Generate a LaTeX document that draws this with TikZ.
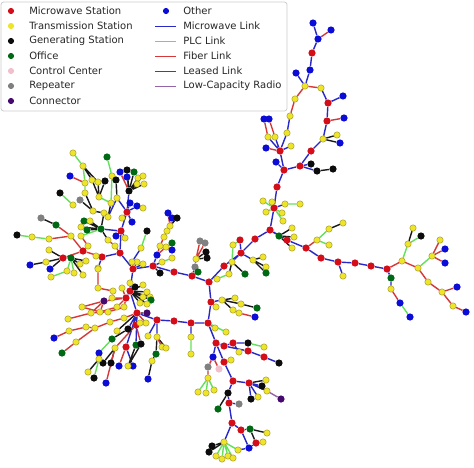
\documentclass[tikz,border=0pt]{standalone}
\usepackage{fontspec}
\setmainfont{DejaVu Sans}
\usetikzlibrary{backgrounds}
\definecolor{cms}{RGB}{212,14,24}
\definecolor{cts}{RGB}{238,228,40}
\definecolor{ctsb}{RGB}{150,140,30}
\definecolor{cgs}{RGB}{12,12,12}
\definecolor{cof}{RGB}{0,105,20}
\definecolor{ccc}{RGB}{242,192,204}
\definecolor{crp}{RGB}{128,128,128}
\definecolor{ccn}{RGB}{70,10,110}
\definecolor{cot}{RGB}{12,12,215}
\definecolor{cmw}{RGB}{40,40,200}
\definecolor{cplc}{RGB}{100,225,90}
\definecolor{cfb}{RGB}{214,55,55}
\definecolor{cll}{RGB}{25,25,25}
\definecolor{clc}{RGB}{150,100,170}
\definecolor{clg}{RGB}{205,205,205}
\tikzset{
 vtx/.style={circle,inner sep=0pt,minimum size=5.4pt},
 ms/.style={vtx,fill=cms},
 ts/.style={vtx,fill=cts,draw=ctsb,line width=0.3pt,minimum size=4.8pt},
 gs/.style={vtx,fill=cgs},
 of/.style={vtx,fill=cof},
 cc/.style={vtx,fill=ccc},
 rp/.style={vtx,fill=crp},
 cn/.style={vtx,fill=ccn},
 ot/.style={vtx,fill=cot},
 mw/.style={draw=cmw,line width=1.05pt},
 plc/.style={draw=cplc,line width=1.05pt},
 fb/.style={draw=cfb,line width=1.05pt},
 ll/.style={draw=cll,line width=1.05pt},
 lc/.style={draw=clc,line width=1.05pt},
 lgtxt/.style={anchor=west,inner sep=0pt,font=\fontsize{7.5}{9}\selectfont,text=black!85},
 lgdot/.style={circle,inner sep=0pt,minimum size=4.6pt}
}
\newcommand\nd[4]{\node[#1] (#2) at (#3,#4) {};}
\begin{document}
\begin{tikzpicture}[x=0.75pt,y=-0.75pt]
\useasboundingbox (0,0) rectangle (474,467);
% ---------- backbone
\nd{ms}{B1}{277}{187}\nd{ms}{B2}{274}{208}\nd{ms}{B3}{270}{230}\nd{ms}{B4}{255}{239}
\nd{ms}{B5}{240}{240}\nd{ms}{B6}{241}{253}\nd{ms}{B7}{224}{266}\nd{ms}{B8}{209}{282}
\nd{ms}{B9}{192}{276}\nd{ms}{B10}{174}{272}\nd{ms}{B11}{153}{266}\nd{ms}{B12}{133}{269}
\nd{ms}{B13}{130}{291}\nd{ms}{B14}{137}{313}\nd{ms}{B15}{157}{320}\nd{ms}{B16}{174}{321}
\nd{ms}{B17}{191}{323}\nd{ms}{B18}{208}{323}\nd{ms}{B19}{211}{302}
% ---------- top arm
\nd{ms}{T1}{284}{170}\nd{ms}{T2}{280}{151}\nd{ot}{T3}{276}{162}\nd{ms}{T4}{300}{166}
\nd{gs}{T5}{311}{164}\nd{gs}{T6}{317}{171}\nd{gs}{T7}{333}{169}\nd{ms}{T8}{311}{151}
\nd{ts}{T9}{323}{139}\nd{ts}{T10}{337}{135}\nd{ot}{T11}{340}{143}\nd{ms}{T12}{327}{121}
\nd{ot}{T13}{344}{118}\nd{ms}{T14}{328}{103}\nd{ot}{T15}{343}{96}\nd{ts}{T16}{321}{88}
\nd{ts}{T17}{305}{86}\nd{ot}{T18}{296}{73}\nd{ot}{T19}{310}{70}\nd{ms}{T20}{312}{53}
\nd{ot}{T21}{318}{39}\nd{ot}{T22}{313}{23}\nd{ot}{T23}{331}{30}\nd{ts}{T24}{295}{99}
\nd{ts}{T25}{290}{116}\nd{ts}{T26}{287}{133}\nd{ts}{T27}{291}{146}\nd{ts}{T28}{275}{137}
\nd{ts}{T29}{268}{137}\nd{ot}{T30}{264}{119}\nd{ot}{T31}{269}{119}\nd{ot}{T32}{266}{148}
\nd{ts}{T33}{263}{201}\nd{ts}{T34}{272}{202}\nd{ts}{T35}{285}{204}\nd{ts}{T36}{300}{204}
\nd{ts}{T37}{266}{212}\nd{ts}{T38}{282}{213}\nd{ts}{T39}{283}{221}
% ---------- right arm
\nd{ms}{R1}{287}{240}\nd{ms}{R2}{306}{248}\nd{ms}{R3}{321}{258}\nd{ms}{R4}{338}{262}
\nd{ms}{R5}{355}{263}\nd{ms}{R6}{371}{266}\nd{ms}{R7}{387}{269}\nd{of}{G1}{279}{236}
\nd{ts}{Rg1}{292}{228}\nd{ts}{Rg2}{294}{237}\nd{ts}{Rg3}{292}{248}
\nd{ts}{R8}{317}{240}\nd{ts}{R9}{329}{229}\nd{ts}{R10}{329}{245}\nd{ts}{R11}{343}{223}
\nd{ts}{R12}{343}{276}\nd{of}{R13}{391}{278}\nd{ts}{R14}{391}{289}\nd{ot}{R15}{400}{303}
\nd{ot}{R16}{410}{317}\nd{ts}{R17}{402}{261}\nd{ts}{R18}{408}{244}\nd{ts}{R19}{413}{228}
\nd{gs}{R20}{421}{236}\nd{ts}{R21}{418}{268}\nd{ts}{R22}{432}{256}\nd{ts}{R23}{440}{240}
\nd{ot}{R24}{445}{249}\nd{ot}{R25}{445}{263}\nd{ts}{R26}{428}{282}\nd{ts}{R27}{442}{292}
\nd{ot}{R28}{457}{287}\nd{ts}{R29}{453}{306}\nd{ot}{R30}{466}{312}
% ---------- centre branches
\nd{ts}{C2}{232}{262}\nd{ts}{C3}{233}{245}\nd{ts}{C4}{229}{274}\nd{ts}{C5}{217}{279}
\nd{of}{C6}{245}{274}\nd{ts}{C7}{253}{260}\nd{ts}{C8}{263}{257}\nd{ts}{C9}{266}{267}
\nd{of}{C10}{266}{273}
\nd{rp}{D1}{200}{241}\nd{rp}{D2}{205}{243}\nd{gs}{D3}{206}{252}\nd{gs}{D4}{207}{258}
\nd{ts}{D5}{196}{259}\nd{rp}{D6}{195}{267}\nd{of}{D7}{198}{272}
\nd{ts}{E1}{222}{300}\nd{ts}{E2}{235}{298}\nd{ts}{E3}{241}{304}\nd{ts}{E4}{233}{310}
\nd{ts}{E5}{239}{313}\nd{ts}{E6}{216}{307}\nd{of}{E7}{257}{308}\nd{ot}{E8}{255}{317}
\nd{ts}{E9}{226}{332}\nd{ts}{E10}{215}{328}\nd{ts}{E11}{191}{337}\nd{ts}{E12}{191}{354}
% ---------- down arm
\nd{ms}{S1}{216}{343}\nd{ms}{S2}{224}{346}\nd{ms}{S3}{233}{343}\nd{gs}{S4}{248}{343}
\nd{ts}{S5}{264}{347}\nd{ts}{S6}{239}{352}\nd{ms}{S7}{248}{351}\nd{ms}{S8}{264}{357}
\nd{gs}{S9}{279}{363}\nd{ot}{S10}{213}{357}\nd{rp}{S11}{208}{367}\nd{cc}{S12}{219}{369}
\nd{ms}{S13}{224}{362}\nd{ts}{S14}{231}{360}\nd{ts}{S15}{208}{378}\nd{ts}{S16}{198}{392}
\nd{ts}{S17}{206}{393}\nd{ts}{S18}{214}{390}\nd{ms}{S19}{233}{381}\nd{ms}{S20}{249}{383}
\nd{ts}{S21}{266}{380}\nd{gs}{S22}{262}{386}\nd{ts}{S23}{267}{391}\nd{gs}{S24}{251}{399}
\nd{ts}{S25}{258}{397}\nd{cn}{S26}{281}{399}\nd{gs}{S27}{228}{393}\nd{ms}{S28}{229}{403}
\nd{of}{S29}{218}{409}\nd{rp}{S30}{239}{404}\nd{ms}{S31}{232}{423}\nd{ms}{S32}{241}{430}
\nd{of}{S33}{250}{429}\nd{ts}{S34}{267}{433}\nd{ms}{S35}{256}{443}\nd{ot}{S36}{249}{448}
\nd{ts}{S37}{263}{442}\nd{ts}{S38}{224}{442}\nd{gs}{S39}{212}{446}\nd{gs}{S40}{209}{452}
\nd{ts}{S41}{216}{456}\nd{ts}{S42}{222}{459}\nd{ts}{S43}{228}{456}\nd{ts}{S44}{233}{458}
\nd{ts}{S45}{238}{450}
% ---------- left upper cluster
\nd{ms}{L1}{120}{253}\nd{ms}{L2}{121}{231}\nd{ms}{L3}{127}{212}\nd{ms}{L4}{83}{251}
\nd{ms}{L5}{63}{258}\nd{ms}{L6}{102}{257}\nd{ot}{Lb}{116}{236}\nd{ts}{Ly}{125}{238}
\nd{ts}{a1}{73}{153}\nd{of}{a2}{107}{157}\nd{ts}{a3}{83}{166}\nd{ts}{a4}{112}{176}
\nd{ot}{a5}{70}{176}\nd{ts}{a6}{85}{183}\nd{ts}{a7}{92}{180}\nd{ts}{a8}{98}{182}
\nd{gs}{a9}{105}{181}\nd{gs}{a10}{116}{180}\nd{ot}{a11}{120}{172}\nd{gs}{a12}{127}{170}
\nd{ot}{a13}{127}{177}\nd{of}{a14}{134}{172}\nd{ts}{a15}{138}{178}\nd{ts}{a16}{143}{176}
\nd{ts}{a17}{144}{184}\nd{ts}{a18}{137}{184}\nd{gs}{a19}{129}{191}\nd{ts}{a20}{85}{193}
\nd{ts}{a21}{99}{197}\nd{gs}{a22}{60}{193}\nd{rp}{a23}{80}{200}\nd{ts}{a24}{73}{205}
\nd{ts}{a25}{93}{211}\nd{ts}{a26}{111}{203}\nd{ts}{a27}{117}{198}\nd{ts}{a28}{104}{213}
\nd{ts}{a29}{108}{217}\nd{rp}{a30}{41}{218}\nd{of}{a31}{56}{225}\nd{of}{a32}{84}{221}
\nd{ts}{a33}{90}{221}\nd{of}{a34}{87}{230}\nd{ts}{a35}{81}{227}\nd{ts}{a36}{81}{236}
\nd{of}{a37}{101}{229}\nd{gs}{a38}{17}{235}\nd{ts}{a39}{32}{237}\nd{ts}{a40}{49}{239}
\nd{ts}{a41}{71}{236}\nd{ts}{a42}{108}{240}\nd{ts}{a43}{115}{246}\nd{ot}{a44}{130}{203}
\nd{ot}{a45}{137}{206}\nd{ts}{a46}{143}{208}\nd{ot}{a47}{132}{222}\nd{ts}{a48}{122}{218}
% ---------- left middle cluster
\nd{of}{b1}{71}{258}\nd{ot}{b2}{30}{265}\nd{ot}{b3}{50}{269}\nd{ts}{b4}{46}{262}
\nd{ts}{b5}{49}{250}\nd{ts}{b6}{51}{277}\nd{ts}{b7}{67}{271}\nd{ts}{b8}{74}{273}
\nd{ts}{b9}{83}{275}\nd{ts}{b10}{86}{261}\nd{ts}{b11}{80}{264}\nd{ts}{b12}{96}{256}
\nd{ts}{b13}{98}{268}\nd{ts}{b14}{88}{246}
% ---------- centre cluster
\nd{ts}{c1}{137}{262}\nd{ts}{c2}{143}{264}\nd{ts}{c3}{132}{262}\nd{ts}{c4}{141}{248}
\nd{gs}{c5}{147}{231}\nd{ot}{c6}{157}{255}\nd{gs}{c7}{160}{273}\nd{ts}{c8}{162}{262}
\nd{ts}{c9}{172}{258}\nd{of}{c10}{172}{243}\nd{ot}{c11}{172}{250}\nd{ts}{c12}{166}{247}
\nd{ts}{c13}{164}{237}\nd{ts}{c14}{167}{231}\nd{ts}{c15}{170}{226}\nd{ot}{c16}{168}{213}
\nd{ot}{c17}{172}{218}\nd{gs}{c18}{177}{218}\nd{ts}{c19}{160}{246}
% ---------- lower left cluster
\nd{gs}{d1}{135}{287}\nd{ts}{d2}{130}{283}\nd{ts}{d3}{122}{288}\nd{ts}{d4}{143}{285}
\nd{ts}{d5}{147}{292}\nd{ts}{d6}{150}{297}\nd{ts}{d7}{143}{297}\nd{of}{d8}{151}{300}
\nd{ts}{d9}{140}{303}\nd{ts}{d10}{147}{304}\nd{ms}{d11}{126}{298}\nd{cn}{d12}{104}{301}
\nd{ts}{d13}{112}{298}\nd{ts}{d14}{98}{288}\nd{ts}{d15}{98}{269}\nd{ts}{d16}{113}{291}
\nd{ts}{e1}{82}{307}\nd{ts}{e2}{91}{313}\nd{ts}{e3}{100}{312}\nd{ts}{e4}{108}{312}
\nd{ts}{e5}{117}{307}\nd{ts}{e6}{124}{307}\nd{ts}{e7}{68}{319}\nd{ts}{e8}{86}{327}
\nd{ts}{e9}{95}{328}\nd{ts}{e10}{110}{322}\nd{ts}{e11}{69}{331}\nd{ot}{e12}{54}{338}
\nd{ts}{e13}{76}{342}\nd{of}{e14}{62}{353}\nd{ts}{e15}{117}{331}\nd{ts}{e16}{124}{318}
\nd{gs}{f1}{128}{329}\nd{ms}{f2}{136}{325}\nd{ms}{f3}{126}{347}\nd{of}{f4}{136}{345}
\nd{gs}{f5}{141}{344}\nd{ot}{f6}{99}{353}\nd{of}{f7}{112}{339}\nd{gs}{f8}{103}{363}
\nd{gs}{f9}{111}{363}\nd{ot}{f10}{119}{366}\nd{ot}{f11}{133}{366}\nd{ts}{f12}{115}{348}
\nd{ts}{f13}{128}{366}\nd{ts}{f14}{88}{372}\nd{gs}{f15}{94}{378}\nd{ot}{f16}{106}{383}
\nd{ts}{f17}{99}{359}\nd{ts}{f18}{157}{337}\nd{ts}{f19}{162}{347}\nd{ts}{f20}{166}{348}
\nd{of}{f21}{156}{354}\nd{ts}{f22}{152}{361}\nd{ot}{f23}{148}{379}\nd{ts}{f24}{148}{336}
\nd{ts}{f25}{146}{323}\nd{ts}{f26}{140}{323}\nd{cn}{f27}{147}{313}
% ================= links
\begin{scope}[on background layer]
\fill[white] (0,0) rectangle (474,467);
\draw[mw] (B1)--(B2) (B2)--(B3) (B3)--(B4) (B4)--(B6) (B5)--(B6) (B6)--(B7) (B7)--(B8)
 (B8)--(B9) (B9)--(B10) (B10)--(B11) (B11)--(B12) (B12)--(B13) (B13)--(B14) (B14)--(B15)
 (B15)--(B16) (B16)--(B17) (B17)--(B18) (B18)--(B19) (B19)--(B8) (B12)--(L1);
\draw[mw] (T1)--(B1) (T1)--(T2) (T1)--(T3) (T1)--(T4) (T4)--(T5) (T4)--(T6) (T4)--(T8)
 (T8)--(T9) (T9)--(T12) (T12)--(T14) (T14)--(T15) (T14)--(T16) (T17)--(T18) (T17)--(T19)
 (T19)--(T20) (T20)--(T21) (T21)--(T22) (T25)--(T26) (T26)--(T2) (T2)--(T27) (T2)--(T28)
 (T2)--(T29) (B2)--(T35);
\draw[ll] (T6)--(T7) (T9)--(T10) (T9)--(T11);
\draw[fb] (T12)--(T13) (T16)--(T17) (T21)--(T23) (T17)--(T24) (T24)--(T25) (T29)--(T30)
 (T28)--(T31) (T2)--(T32);
\draw[plc] (B2)--(T33) (B2)--(T34) (T35)--(T36) (B2)--(T37) (B2)--(T38) (B2)--(T39);
% right arm
\draw[mw] (B3)--(R1) (B3)--(G1) (R1)--(R2) (R2)--(R3) (R3)--(R4) (R4)--(R5) (R5)--(R6)
 (R6)--(R7) (R4)--(R12) (R7)--(R13) (R13)--(R14);
\draw[ll] (G1)--(Rg1) (G1)--(Rg2) (G1)--(Rg3) (R9)--(R11) (R18)--(R19);
\draw[fb] (R2)--(R8) (R14)--(R15) (R7)--(R17) (R17)--(R21) (R22)--(R23) (R22)--(R24)
 (R22)--(R25) (R21)--(R26) (R26)--(R27) (R27)--(R28) (R27)--(R29) (R29)--(R30);
\draw[plc] (R8)--(R9) (R8)--(R10) (R15)--(R16) (R17)--(R18) (R18)--(R20) (R21)--(R22);
% centre
\draw[mw] (B6)--(C2) (B6)--(C7) (B9)--(D7) (B9)--(D6) (D6)--(D5) (B19)--(E1) (B19)--(E6)
 (B18)--(E10) (B17)--(E11);
\draw[plc] (C2)--(C3) (B5)--(C3) (C4)--(C5) (B18)--(E9) (E11)--(E12);
\draw[ll] (C2)--(C4) (C2)--(C6) (C7)--(C8) (C7)--(C9) (C7)--(C10) (D5)--(D3) (D5)--(D4)
 (E1)--(E2) (E1)--(E3) (E3)--(E7) (E1)--(E4) (E4)--(E5);
\draw[fb] (D5)--(D1) (D5)--(D2) (E5)--(E8);
% down arm
\draw[mw] (B18)--(S1) (S1)--(S2) (S2)--(S3) (S3)--(S4) (S3)--(S6) (S2)--(S7) (S7)--(S8)
 (S8)--(S9) (S1)--(S10) (S1)--(S13) (S13)--(S14) (S13)--(S19) (S19)--(S20) (S20)--(S22)
 (S20)--(S23) (S20)--(S24) (S20)--(S25) (S19)--(S27) (S27)--(S28) (S28)--(S30) (S28)--(S31)
 (S31)--(S32) (S32)--(S33) (S32)--(S36) (S36)--(S35) (S31)--(S38) (S45)--(S36);
\draw[plc] (S4)--(S5) (S15)--(S16) (S15)--(S17) (S15)--(S18) (S38)--(S41) (S38)--(S42)
 (S38)--(S43) (S38)--(S44) (S38)--(S45);
\draw[fb] (S10)--(S11) (S10)--(S12) (S11)--(S15);
\draw[ll] (S20)--(S21) (S27)--(S29) (S33)--(S34) (S33)--(S35) (S35)--(S37) (S38)--(S39)
 (S38)--(S40);
\draw[lc] (S23)--(S26);
% left upper
\draw[mw] (L1)--(L2) (L2)--(L3) (L2)--(Lb) (L2)--(Ly) (L1)--(L6) (L3)--(a19) (L3)--(a27)
 (L3)--(a44) (L3)--(a45) (L3)--(a47) (L3)--(a48) (a37)--(L2) (a27)--(a29);
\draw[fb] (L6)--(L4) (L4)--(L5) (a5)--(a6) (a19)--(a11) (a19)--(a13) (a31)--(a41) (a40)--(a41)
 (a41)--(L4) (a42)--(a43) (a43)--(L1) (L4)--(b14) (b14)--(a36);
\draw[plc] (a1)--(a3) (a3)--(a6) (a6)--(a20) (a2)--(a4) (a4)--(a26) (a22)--(a24) (a38)--(a39)
 (a39)--(a40) (a37)--(a36) (a45)--(a46) (a21)--(a26);
\draw[ll] (a3)--(a7) (a3)--(a8) (a8)--(a21) (a7)--(a21) (a9)--(a21) (a10)--(a27) (a19)--(a12)
 (a19)--(a14) (a19)--(a15) (a19)--(a16) (a19)--(a17) (a19)--(a18) (a23)--(a25) (a25)--(a28)
 (a28)--(a37) (a26)--(a29) (a37)--(a32) (a37)--(a33) (a37)--(a34) (a37)--(a35) (a30)--(a31)
 (a37)--(a42) (a20)--(a25);
% left middle
\draw[mw] (L5)--(b1) (L6)--(b12) (L6)--(b13);
\draw[ll] (L5)--(b4) (b4)--(b2) (L5)--(b5) (L5)--(b3) (b1)--(b10) (b1)--(b11) (b1)--(b9);
\draw[plc] (b1)--(b7) (b1)--(b8) (b7)--(b6);
% centre cluster
\draw[mw] (B12)--(c1) (B12)--(c2) (B12)--(c3) (c3)--(c4) (B11)--(c6) (B11)--(c8);
\draw[plc] (c4)--(c5) (c8)--(c9);
\draw[ll] (B11)--(c7) (c13)--(c14) (c14)--(c15) (c15)--(c18) (c12)--(c10);
\draw[fb] (c6)--(c19) (c19)--(c13) (c15)--(c16) (c15)--(c17) (c6)--(c12) (c12)--(c11);
% lower left
\draw[mw] (B13)--(d2) (B13)--(d11) (B14)--(f2) (B14)--(f1) (B14)--(f3) (B14)--(f4) (f3)--(f11)
 (B15)--(f24) (B15)--(f18);
\draw[ll] (B13)--(d1) (B13)--(d4) (B13)--(d5) (B13)--(d6) (B13)--(d7) (B13)--(d8) (B13)--(d9)
 (B13)--(d10) (B14)--(f27) (f1)--(f7) (f4)--(f13) (f5)--(f13) (f12)--(f9) (f12)--(f8)
 (f17)--(f14) (f18)--(f20) (f18)--(f21) (f21)--(f22) (f22)--(f23) (e15)--(B14);
\draw[fb] (d11)--(d12) (d11)--(d13) (d13)--(d16) (d16)--(d14) (d14)--(d15) (d3)--(d11)
 (d12)--(e1) (d12)--(e2) (d12)--(e3) (d11)--(e5) (d11)--(e6) (e6)--(e4) (e4)--(e2) (e2)--(e7)
 (e5)--(e3) (e3)--(e1) (B14)--(e16) (e16)--(e10) (e10)--(e9) (e9)--(e8) (e8)--(e11)
 (e11)--(e12) (e9)--(e13) (e13)--(e14) (f3)--(f10) (f6)--(f17) (f12)--(f16) (f2)--(f12)
 (B14)--(f25) (f25)--(f26) (f18)--(f19) (f2)--(f5);
\draw[plc] (f17)--(f15) (f7)--(f6);
\end{scope}
% ================= legend
\draw[clg,fill=white,line width=0.6pt,rounded corners=2pt] (1,2) rectangle (287,111);
\node[lgdot,fill=cms] (k1) at (11,11) {};
\node[lgdot,fill=cts] (k2) at (11,26) {};
\node[lgdot,fill=cgs] (k3) at (11,41) {};
\node[lgdot,fill=cof] (k4) at (11,56) {};
\node[lgdot,fill=ccc] (k5) at (11,71) {};
\node[lgdot,fill=crp] (k6) at (11,86) {};
\node[lgdot,fill=ccn] (k7) at (11,101) {};
\node[lgdot,fill=cot] (k8) at (166,11) {};
\node[lgtxt] (t1) at (29,11) {Microwave Station};
\node[lgtxt] (t2) at (29,26) {Transmission Station};
\node[lgtxt] (t3) at (29,41) {Generating Station};
\node[lgtxt] (t4) at (29,56) {Office};
\node[lgtxt] (t5) at (29,71) {Control Center};
\node[lgtxt] (t6) at (29,86) {Repeater};
\node[lgtxt] (t7) at (29,101) {Connector};
\node[lgtxt] (t8) at (183,11) {Other};
\node[lgtxt] (t9) at (183,26) {Microwave Link};
\node[lgtxt] (t10) at (183,41) {PLC Link};
\node[lgtxt] (t11) at (183,56) {Fiber Link};
\node[lgtxt] (t12) at (183,71) {Leased Link};
\node[lgtxt] (t13) at (183,86) {Low-Capacity Radio};
\coordinate (s1a) at (155,26); \coordinate (s1b) at (176,26);
\coordinate (s2a) at (155,41); \coordinate (s2b) at (176,41);
\coordinate (s3a) at (155,56); \coordinate (s3b) at (176,56);
\coordinate (s4a) at (155,71); \coordinate (s4b) at (176,71);
\coordinate (s5a) at (155,86); \coordinate (s5b) at (176,86);
\draw[mw,line width=0.7pt] (s1a)--(s1b);
\draw[plc,line width=0.7pt] (s2a)--(s2b);
\draw[fb,line width=0.7pt] (s3a)--(s3b);
\draw[ll,line width=0.7pt,draw=black!70] (s4a)--(s4b);
\draw[lc,line width=0.7pt] (s5a)--(s5b);
\end{tikzpicture}
\end{document}
